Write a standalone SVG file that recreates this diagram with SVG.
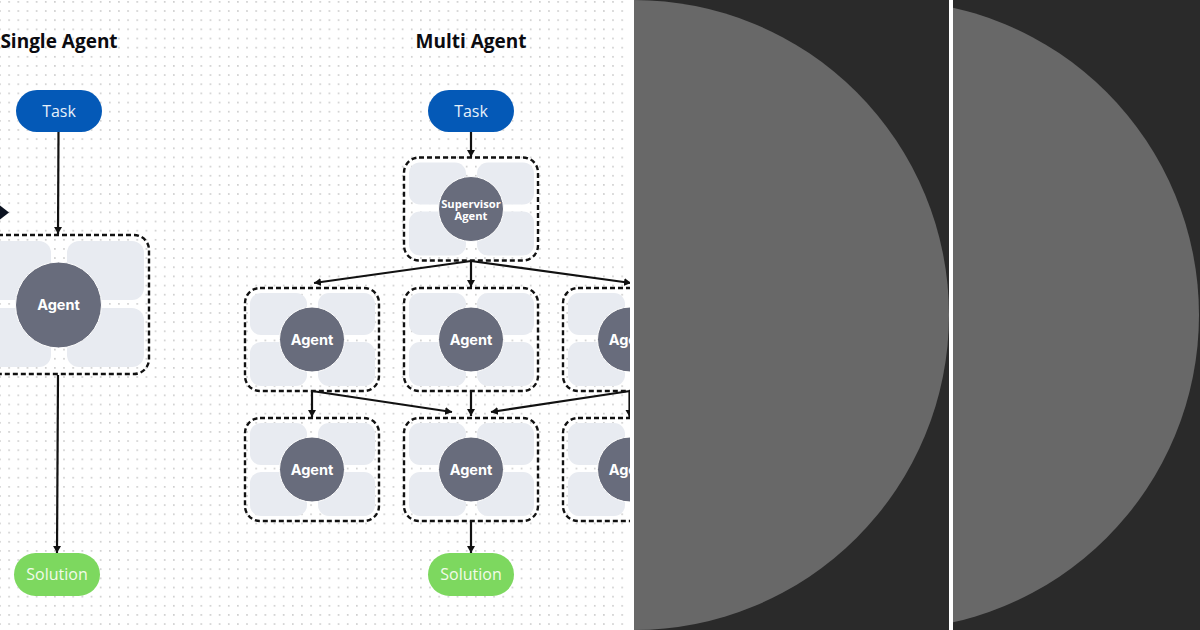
<svg xmlns="http://www.w3.org/2000/svg" width="1200" height="630" viewBox="0 0 1200 630">
<style>
.t{font-family:"Open Sans","Liberation Sans",sans-serif}
.title{font-size:19px;font-weight:700;fill:#0b0b10;text-anchor:middle}
.pill{font-size:16px;font-weight:400;text-anchor:middle}
.ag{font-family:Inter,"Liberation Sans",sans-serif;font-weight:700;font-size:14.5px;fill:#fff;text-anchor:middle}
.sup{font-family:"Open Sans","Liberation Sans",sans-serif;font-weight:700;font-size:11.2px;fill:#fff;text-anchor:middle}
.tile{fill:#e8ebf1}
.disc{fill:#686c7c;stroke:#fff;stroke-width:1}
.dash{fill:#fff;fill-opacity:0;stroke:#111;stroke-width:2.4;stroke-dasharray:5 3}
.c{fill:none;stroke:#111;stroke-width:2.2;marker-end:url(#a)}
</style>
<defs>
<pattern id="dots" width="9.15" height="9.15" patternUnits="userSpaceOnUse" x="-4.5" y="-2.65">
<circle cx="4.5" cy="4.5" r="0.8" fill="#bcbcbc"/>
</pattern>
<marker id="a" markerUnits="userSpaceOnUse" markerWidth="9" markerHeight="9" refX="7" refY="4" orient="auto">
<path d="M0 0L7 4L0 8Z" fill="#111"/>
</marker>
<g id="cell">
<rect class="tile" x="-62" y="-46.500" width="57" height="42" rx="11"/>
<rect class="tile" x="6" y="-46.500" width="57" height="42" rx="11"/>
<rect class="tile" x="-62" y="2.500" width="57" height="44" rx="11"/>
<rect class="tile" x="6" y="2.500" width="57" height="44" rx="11"/>
<rect class="dash" x="-67" y="-51.500" width="134" height="103" rx="15"/>
<circle class="disc" cx="0" cy="0" r="32.500"/>
</g>
</defs>
<rect width="1200" height="630" fill="#fff"/>
<rect width="630" height="630" fill="url(#dots)"/>
<text class="t title" x="59" y="47.500">Single Agent</text>
<text class="t title" x="471" y="47.500">Multi Agent</text>
<path id="side-arrow" d="M0 205.500L9 212.500L0 219.500Z" fill="#0b1220"/>
<g id="connectors">
<path class="c" d="M58.500 132L58 234"/>
<path class="c" d="M58 375L57 553"/>
<path class="c" d="M471 132V157"/>
<path class="c" d="M471 261L314 283"/>
<path class="c" d="M471 261V287"/>
<path class="c" d="M471 261L631 283"/>
<path class="c" d="M312 391V417"/>
<path class="c" d="M312 391L452 412"/>
<path class="c" d="M471 391V416"/>
<path class="c" d="M630 391L491 412"/>
<path class="c" d="M629.500 391V417"/>
<path class="c" d="M471 521V553"/>
</g>
<g id="single-task"><rect x="16" y="90" width="86" height="42" rx="21" fill="#0459b7"/><text class="t pill" x="59" y="116.500" fill="#e6f0fa">Task</text></g>
<g id="single-agent">
<rect class="tile" x="-28" y="241" width="79" height="59" rx="12"/>
<rect class="tile" x="67" y="241" width="77" height="59" rx="12"/>
<rect class="tile" x="-28" y="308" width="79" height="59" rx="12"/>
<rect class="tile" x="67" y="308" width="77" height="59" rx="12"/>
<rect class="dash" x="-33" y="235" width="182" height="139" rx="15"/>
<circle class="disc" cx="58.500" cy="305" r="43"/>
<text class="ag" x="58.500" y="310">Agent</text>
</g>
<g id="single-solution"><rect x="14" y="553" width="86" height="43" rx="21.500" fill="#7dd85f"/><text class="t pill" x="57" y="580" fill="#f2fbe9">Solution</text></g>
<g id="multi-task"><rect x="428" y="90" width="86" height="42" rx="21" fill="#0459b7"/><text class="t pill" x="471" y="116.500" fill="#e6f0fa">Task</text></g>
<g id="supervisor"><use href="#cell" x="471" y="209"/><text class="sup"><tspan x="471" y="207.500">Supervisor</tspan><tspan x="471" y="219.500">Agent</tspan></text></g>
<g id="agent-1"><use href="#cell" x="312" y="339.500"/><text class="ag" x="312" y="344.500">Agent</text></g>
<g id="agent-2"><use href="#cell" x="471" y="339.500"/><text class="ag" x="471" y="344.500">Agent</text></g>
<g id="agent-3"><use href="#cell" x="630" y="339.500"/><text class="ag" x="630" y="344.500">Agent</text></g>
<g id="agent-4"><use href="#cell" x="312" y="469.500"/><text class="ag" x="312" y="474.500">Agent</text></g>
<g id="agent-5"><use href="#cell" x="471" y="469.500"/><text class="ag" x="471" y="474.500">Agent</text></g>
<g id="agent-6"><use href="#cell" x="630" y="469.500"/><text class="ag" x="630" y="474.500">Agent</text></g>
<g id="multi-solution"><rect x="428" y="553" width="86" height="43" rx="21.500" fill="#7dd85f"/><text class="t pill" x="471" y="580" fill="#f2fbe9">Solution</text></g>
<rect x="630" y="0" width="570" height="630" fill="#fff"/>
<svg x="634" y="0" width="315" height="630" viewBox="634 0 315 630"><rect x="634" width="315" height="630" fill="#2a2a2a"/><circle cx="634" cy="315" r="315" fill="#686868"/></svg>
<svg x="953" y="0" width="247" height="630" viewBox="953 0 247 630"><rect x="953" width="247" height="630" fill="#2a2a2a"/><circle cx="884" cy="315" r="315" fill="#686868"/></svg>
</svg>
